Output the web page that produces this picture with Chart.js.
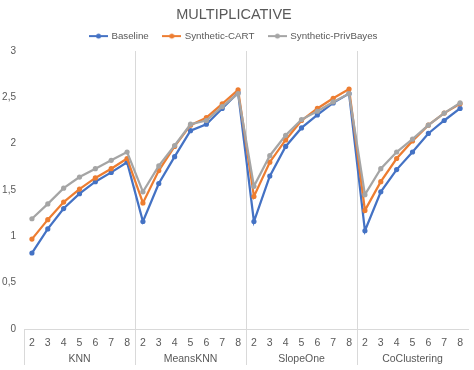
<!DOCTYPE html>
<html>
<head>
<meta charset="utf-8">
<script src="https://cdn.jsdelivr.net/npm/chart.js@4.4.1/dist/chart.umd.min.js"></script>
<style>
  html, body { margin: 0; padding: 0; background: #fff; }
  #wrap { width: 474px; height: 370px; position: relative; }
</style>
</head>
<body>
<div id="wrap"><canvas id="chart"></canvas></div>
<script>
// groups of the x axis and the k values inside each group
const groups = ['KNN', 'MeansKNN', 'SlopeOne', 'CoClustering'];
const kValues = ['2', '3', '4', '5', '6', '7', '8'];

// series values, 7 per group, in group order
const baseline = [0.82, 1.08, 1.30, 1.46, 1.59, 1.69, 1.80,
                  1.16, 1.57, 1.86, 2.14, 2.21, 2.38, 2.55,
                  1.16, 1.65, 1.97, 2.17, 2.31, 2.44, 2.54,
                  1.06, 1.48, 1.72, 1.91, 2.11, 2.25, 2.38];
const syntheticCart = [0.97, 1.18, 1.37, 1.51, 1.63, 1.73, 1.84,
                       1.36, 1.71, 1.97, 2.20, 2.28, 2.43, 2.58,
                       1.43, 1.80, 2.04, 2.25, 2.38, 2.49, 2.59,
                       1.28, 1.59, 1.84, 2.03, 2.20, 2.33, 2.43];
const syntheticPrivBayes = [1.19, 1.35, 1.52, 1.64, 1.73, 1.82, 1.91,
                            1.48, 1.76, 1.98, 2.21, 2.25, 2.40, 2.54,
                            1.54, 1.87, 2.09, 2.26, 2.35, 2.45, 2.54,
                            1.45, 1.73, 1.91, 2.05, 2.20, 2.33, 2.44];

const textColor = '#595959';
const sepColor = '#d9d9d9';
const fontFamily = '"Liberation Sans", Arial, sans-serif';

// x labels: 2..8 for each group, group name under the middle one
const perGroup = kValues.length;
const mid = Math.floor(perGroup / 2);
const xLabels = [];
groups.forEach(g => kValues.forEach((k, i) => xLabels.push(i === mid ? [k, g] : k)));

// small legend marker: line with a dot in the middle
function legendMarker(color){
    const c = document.createElement('canvas');
    c.width = 19; c.height = 8;
    const g = c.getContext('2d');
    g.strokeStyle = color; g.lineWidth = 2;
    g.beginPath(); g.moveTo(0, 4); g.lineTo(19, 4); g.stroke();
    g.fillStyle = color;
    g.beginPath(); g.arc(9.5, 4, 2.5, 0, Math.PI * 2); g.fill();
    return c;
}

function series(label, data, color, order){
    return {
        label: label,
        data: data,
        borderColor: color,
        backgroundColor: color,
        borderWidth: 2.25,
        pointRadius: 2.6,
        pointBorderWidth: 0,
        pointBackgroundColor: color,
        legendStyle: legendMarker(color),
        tension: 0,
        order: order          // gray drawn on top, like the original
    };
}

const ctx = document.getElementById('chart');
new Chart(ctx, {
    type: 'line',
    data: {
        labels: xLabels,
        datasets: [
            series('Baseline', baseline, '#4472C4', 3),
            series('Synthetic-CART', syntheticCart, '#ED7D31', 2),
            series('Synthetic-PrivBayes', syntheticPrivBayes, '#A5A5A5', 1)
        ]
    },
    options: {
        responsive: true,
        maintainAspectRatio: false,
        animation: false,
        layout: { padding: { left: 0, right: 6, top: 0, bottom: 4 } },
        scales: {
            x: {
                type: 'category',
                offset: true,
                afterFit: scale => { scale.height = 37; },   // room for both label rows
                grid: {
                    offset: true,
                    // separators only at the group boundaries
                    color: c => (c.index % perGroup === 0 && c.index > 0 && c.index < xLabels.length) ? sepColor : 'rgba(0,0,0,0)',
                    tickColor: c => (c.index % perGroup === 0) ? sepColor : 'rgba(0,0,0,0)',
                    tickLength: 36
                },
                border: { display: true, color: sepColor, width: 1 },
                ticks: {
                    autoSkip: false,
                    maxRotation: 0,
                    padding: -30,     // pull the labels up beside the separator ticks
                    color: textColor,
                    font: { family: fontFamily, size: 10.5, lineHeight: 1.55 }
                }
            },
            y: {
                min: 0,
                max: 3,
                grid: { display: false, drawTicks: false },
                border: { display: false },
                afterFit: scale => {
                    scale.width = 24;
                    scale.paddingTop = 51;     // plot top, a gap under the legend
                },
                ticks: {
                    stepSize: 0.5,
                    padding: 8,
                    color: textColor,
                    font: { family: fontFamily, size: 10 },
                    callback: v => String(v).replace('.', ',')   // comma decimals
                }
            }
        },
        plugins: {
            title: {
                display: true,
                text: 'MULTIPLICATIVE',
                color: textColor,
                font: { family: fontFamily, size: 14.5, weight: 'normal' },
                padding: { top: 3, bottom: -7.5 }
            },
            legend: {
                position: 'top',
                reverse: true,
                labels: {
                    usePointStyle: true,
                    pointStyleWidth: 16,
                    boxHeight: 8,
                    padding: 15,
                    color: textColor,
                    font: { family: fontFamily, size: 9.75 },
                    generateLabels: chart => {
                        const items = Chart.defaults.plugins.legend.labels.generateLabels(chart);
                        items.forEach(it => {
                            it.pointStyle = chart.data.datasets[it.datasetIndex].legendStyle;
                        });
                        return items;
                    }
                }
            },
            tooltip: { enabled: false }
        }
    }
});
</script>
</body>
</html>
